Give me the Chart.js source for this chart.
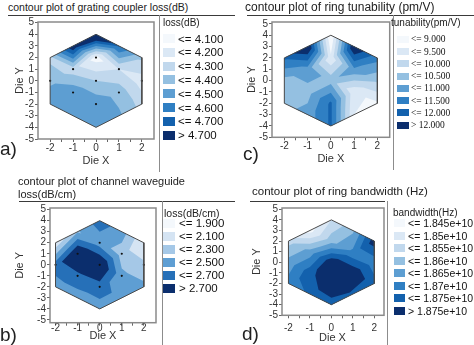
<!DOCTYPE html>
<html>
<head>
<meta charset="utf-8">
<script src="https://cdn.jsdelivr.net/npm/chart.js@4.4.1/dist/chart.umd.min.js"></script>
<style>
  body { margin: 0; width: 474px; height: 345px; position: relative; overflow: hidden; background: #fff;
         font-family: "Liberation Sans", Arial, sans-serif; color: #222; }
  .abs { position: absolute; white-space: nowrap; }
  .rule { position: absolute; height: 0; border-top: 1px solid #3a3a3a; }
  .sep { position: absolute; width: 0; border-left: 1px solid #8c8c8c; }
  canvas { position: absolute; }
</style>
</head>
<body>
<script>
// die sites on the wafer (same layout for all four maps)
const dieX = [0, -1, 1, -2, 0, 2, -1, 1, -2, 0, 2, -1, 1, -2, 0, 2, -1, 1, 0];
const dieY = [4, 3, 3, 2, 2, 2, 1, 1, 0, 0, 0, -1, -1, -2, -2, -2, -3, -3, -4];
// wafer outline
const hullX = [0, 2, 2, 0, -2, -2, 0];
const hullY = [4, 2, -2, -4, -2, 2, 4];
// axis ticks
const xTickVals = [-2, -1.5, -1, -0.5, 0, 0.5, 1, 1.5, 2];
const yTickVals = [-5, -4, -3, -2, -1, 0, 1, 2, 3, 4, 5];

// a) grating coupler loss (dB)
const couplerLoss = [4.95, 4.8, 4.62, 4.27, 4.05, 4.32, 4.25, 4.2, 4.38, 4.3, 4.15, 4.47, 4.36, 4.47, 4.47, 4.26, 4.47, 4.42, 4.45];
const couplerLevels = [4.1, 4.2, 4.3, 4.4, 4.5, 4.6, 4.7];
// b) channel waveguide loss (dB/cm)
const guideLoss = [2.6, 2.28, 2.4, 1.95, 2.4, 1.9, 2.95, 2.2, 2.6, 2.95, 2.15, 2.65, 2.35, 2.4, 2.62, 2.35, 2.4, 2.4, 2.4];
const guideLevels = [1.9, 2.1, 2.3, 2.5, 2.7];
// c) ring tunability (pm/V)
const tunability = [8.5, 12.6, 12.6, 11.6, 9.1, 11.2, 10.8, 10.9, 10.3, 10.3, 10.1, 10.3, 9.1, 10.3, 11.6, 8.9, 10.7, 9.0, 11.6];
const tunLevels = [9.0, 9.5, 10.0, 10.5, 11.0, 11.5, 12.0];
// d) ring bandwidth (Hz)
const bandwidth = [1.850e10, 1.843e10, 1.859e10, 1.853e10, 1.858e10, 1.878e10, 1.862e10, 1.866e10, 1.862e10, 1.879e10,
                   1.867e10, 1.873e10, 1.879e10, 1.867e10, 1.881e10, 1.872e10, 1.871e10, 1.874e10, 1.872e10];
const bwLevels = [1.845e10, 1.85e10, 1.855e10, 1.86e10, 1.865e10, 1.87e10, 1.875e10];

const blues8 = ['#f4f8fc', '#dbe8f5', '#c1d8ed', '#94c0e1', '#5d9ed2', '#2f7fc3', '#1361ad', '#0b2e6d'];
const blues6 = ['#f4f8fc', '#d5e4f3', '#a5c8e7', '#5e9ed3', '#2670b8', '#0b2e6d'];

// triangulate the die grid: diamonds split on the vertical diagonal + edge triangles
const site = (x, y) => dieX.findIndex((v, i) => v === x && dieY[i] === y);
const tris = [];
for (let cx = -1; cx <= 1; cx++) {
  for (let cy = -3; cy <= 3; cy++) {
    if (Math.abs(cx + cy) % 2 !== 1) continue;
    const t = site(cx, cy + 1), b = site(cx, cy - 1), l = site(cx - 1, cy), r = site(cx + 1, cy);
    if (t < 0 || b < 0 || l < 0 || r < 0) continue;
    tris.push([b, t, l], [b, t, r]);
  }
}
[-2, 2].forEach(sx => [1, -1].forEach(cy => {
  tris.push([site(sx, cy + 1), site(sx, cy - 1), site(sx - Math.sign(sx), cy)]);
}));

// keep the part of a polygon where value > t
function clip(poly, t) {
  const out = [];
  for (let i = 0; i < poly.length; i++) {
    const a = poly[i], b = poly[(i + 1) % poly.length];
    const ina = a.v > t, inb = b.v > t;
    if (ina) out.push(a);
    if (ina !== inb) {
      const f = (t - a.v) / (b.v - a.v);
      out.push({ x: a.x + f * (b.x - a.x), y: a.y + f * (b.y - a.y), v: t });
    }
  }
  return out;
}

function contourPlugin(P) {
  return {
    id: 'contour' + P.id,
    beforeDatasetsDraw(chart) {
      const { ctx, scales: { x, y } } = chart;
      ctx.save();
      P.colors.forEach((col, k) => {
        ctx.beginPath();
        tris.forEach(t => {
          let poly = t.map(i => ({ x: dieX[i], y: dieY[i], v: P.values[i] }));
          if (k > 0) poly = clip(poly, P.levels[k - 1]);
          if (poly.length < 3) return;
          poly.forEach((p, j) => {
            const px = x.getPixelForValue(p.x), py = y.getPixelForValue(p.y);
            j ? ctx.lineTo(px, py) : ctx.moveTo(px, py);
          });
          ctx.closePath();
        });
        ctx.fillStyle = col;
        ctx.fill();
      });
      ctx.restore();
    },
    afterDraw(chart) {
      const { ctx, chartArea: a } = chart;
      ctx.save();
      ctx.strokeStyle = '#8a8a8a';
      ctx.lineWidth = 1.5;
      ctx.strokeRect(a.left, a.top, a.right - a.left, a.bottom - a.top);
      ctx.restore();
    }
  };
}

const panels = [
  { id: 'a', values: couplerLoss, levels: couplerLevels, colors: blues8, fmt: v => v.toFixed(3),
    title: ['contour plot of grating coupler loss(dB)'], titleX: 8, titleY: 1, titleSize: 10.5,
    rule: [8, 15, 227], sep: [159, 15, 157], tag: ['a)', 0, 139],
    cv: [0, 15, 158, 157], yW: 38, xH: 33, padTop: 4.3, padRight: 2.3,
    xr: [-2.53, 2.53], yr: [-5, 5.06], yTitlePad: 13, xTitlePad: 4, tickPad: 0, dots: true,
    lg: { title: 'loss(dB)', tx: 163, ty: 17, ts: 10, bx: 163, bw: 12, bh: 9, lx: 178, y0: 38.5, dy: 13.8, fs: 11.5, ff: '"Liberation Sans", Arial, sans-serif' } },
  { id: 'c', values: tunability, levels: tunLevels, colors: blues8, fmt: v => v.toFixed(3),
    title: ['contour plot of ring tunability (pm/V)'], titleX: 245, titleY: 1, titleSize: 12,
    rule: [247, 15, 227], sep: [393, 15, 155], tag: ['c)', 243, 144],
    cv: [237, 15, 155, 157], yW: 35, xH: 34.7, padTop: 4, padRight: 2.3,
    xr: [-2.53, 2.53], yr: [-5, 5.17], yTitlePad: 8.4, xTitlePad: 6, tickPad: 0, dots: false,
    lg: { title: 'tunability(pm/V)', tx: 391, ty: 17, ts: 10, bx: 397, bw: 12, bh: 7, lx: 411, y0: 39.3, dy: 12.25, fs: 9.5, ff: '"Liberation Serif", "Times New Roman", serif' } },
  { id: 'b', values: guideLoss, levels: guideLevels, colors: blues6, fmt: v => v.toFixed(3),
    title: ['contour plot of channel waveguide', 'loss(dB/cm)'], titleX: 18, titleY: 175, titleSize: 11,
    rule: [19, 201, 216], sep: [162, 201, 144], tag: ['b)', 0, 325],
    cv: [0, 201, 162, 144], yW: 50, xH: 22.3, padTop: 3.3, padRight: 6,
    xr: [-2.25, 2.55], yr: [-5.25, 5.15], yTitlePad: 13.4, xTitlePad: 2.4, tickPad: -3, dots: true,
    lg: { title: 'loss(dB/cm)', tx: 164, ty: 208, ts: 10.5, bx: 163, bw: 12, bh: 9, lx: 179, y0: 223.3, dy: 13, fs: 11.5, ff: '"Liberation Sans", Arial, sans-serif' } },
  { id: 'd', values: bandwidth, levels: bwLevels, colors: blues8, fmt: v => v.toExponential(),
    title: ['contour plot of ring bandwidth (Hz)'], titleX: 252, titleY: 185, titleSize: 11.5,
    rule: [250, 201, 135], sep: [387, 201, 144], tag: ['d)', 242, 324],
    cv: [237, 201, 150, 144], yW: 45, xH: 29.7, padTop: 3.3, padRight: 3,
    xr: [-2.3, 2.45], yr: [-5, 5.12], yTitlePad: 13.4, xTitlePad: 0, tickPad: 4, dots: false,
    xCaption: [319, 331],
    lg: { title: 'bandwidth(Hz)', tx: 393, ty: 207, ts: 10, bx: 394, bw: 11, bh: 8, lx: 408, y0: 223.3, dy: 12.53, fs: 10.5, ff: '"Liberation Sans", Arial, sans-serif' } }
];

function addDiv(text, css) {
  const d = document.createElement('div');
  d.className = 'abs';
  d.textContent = text;
  Object.assign(d.style, css);
  document.body.appendChild(d);
  return d;
}

panels.forEach(P => {
  // chart
  const cv = document.createElement('canvas');
  cv.width = P.cv[2]; cv.height = P.cv[3];
  Object.assign(cv.style, { left: P.cv[0] + 'px', top: P.cv[1] + 'px', width: P.cv[2] + 'px', height: P.cv[3] + 'px' });
  document.body.appendChild(cv);

  const datasets = [{
    data: hullX.map((x, i) => ({ x, y: hullY[i] })),
    showLine: true, borderColor: '#4a4a4a', borderWidth: 1, pointRadius: 0, fill: false
  }];
  if (P.dots) {
    datasets.push({
      data: dieX.map((x, i) => ({ x, y: dieY[i] })).filter(p => Math.abs(p.y) <= 2 && !(Math.abs(p.x) === 2 && Math.abs(p.y) === 2)),
      pointRadius: 1.1, pointBackgroundColor: '#111', pointBorderWidth: 0, showLine: false
    });
  }

  const tickFont = { size: 10 };
  new Chart(cv, {
    type: 'scatter',
    data: { datasets },
    plugins: [contourPlugin(P)],
    options: {
      responsive: false,
      animation: false,
      events: [],
      layout: { padding: { top: P.padTop, right: P.padRight, left: 0, bottom: 0 } },
      plugins: { legend: { display: false }, tooltip: { enabled: false } },
      scales: {
        x: {
          type: 'linear', min: P.xr[0], max: P.xr[1],
          afterBuildTicks: sc => { sc.ticks = xTickVals.map(v => ({ value: v })); },
          afterFit: sc => { sc.height = P.xH; },
          ticks: { autoSkip: false, maxRotation: 0, padding: P.tickPad, color: '#333', font: tickFont,
                   callback: v => Number.isInteger(v) ? String(v) : '' },
          grid: { drawOnChartArea: false, tickLength: 3, color: '#666' },
          border: { display: false },
          title: { display: !P.xCaption, text: 'Die X', color: '#333', font: { size: 11, lineHeight: 1.2 }, padding: { top: 0, bottom: P.xTitlePad } }
        },
        y: {
          type: 'linear', min: P.yr[0], max: P.yr[1],
          afterBuildTicks: sc => { sc.ticks = yTickVals.map(v => ({ value: v })); },
          afterFit: sc => { sc.width = P.yW; },
          ticks: { autoSkip: false, padding: 1, color: '#333', font: tickFont },
          grid: { drawOnChartArea: false, tickLength: 3, color: '#666' },
          border: { display: false },
          title: { display: true, text: 'Die Y', color: '#333', font: { size: 11, lineHeight: 1.2 }, padding: { top: P.yTitlePad, bottom: 0 } }
        }
      }
    }
  });

  // heading, rules and panel tag (on top of the canvases)
  P.title.forEach((t, i) => addDiv(t, { left: P.titleX + 'px', top: (P.titleY + i * 13) + 'px', fontSize: P.titleSize + 'px', lineHeight: '13px' }));
  const r = document.createElement('div'); r.className = 'rule';
  Object.assign(r.style, { left: P.rule[0] + 'px', top: P.rule[1] + 'px', width: P.rule[2] + 'px' });
  document.body.appendChild(r);
  const s = document.createElement('div'); s.className = 'sep';
  Object.assign(s.style, { left: P.sep[0] + 'px', top: P.sep[1] + 'px', height: P.sep[2] + 'px' });
  document.body.appendChild(s);
  addDiv(P.tag[0], { left: P.tag[1] + 'px', top: P.tag[2] + 'px', fontSize: '19px', lineHeight: '20px' });
  if (P.xCaption) {
    addDiv('Die X', { left: P.xCaption[0] + 'px', top: P.xCaption[1] + 'px', fontSize: '11px', lineHeight: '12px', color: '#333' });
  }

  // legend
  const L = P.lg;
  addDiv(L.title, { left: L.tx + 'px', top: L.ty + 'px', fontSize: L.ts + 'px', lineHeight: '11px' });
  P.colors.forEach((col, k) => {
    const cy = L.y0 + k * L.dy;
    const label = k < P.levels.length ? '<= ' + P.fmt(P.levels[k]) : '> ' + P.fmt(P.levels[P.levels.length - 1]);
    addDiv('', { left: L.bx + 'px', top: (cy - L.bh / 2) + 'px', width: L.bw + 'px', height: L.bh + 'px', background: col });
    addDiv(label, { left: L.lx + 'px', top: (cy - 7) + 'px', fontSize: L.fs + 'px', lineHeight: '14px', fontFamily: L.ff, color: '#111' });
  });
});
</script>
</body>
</html>
